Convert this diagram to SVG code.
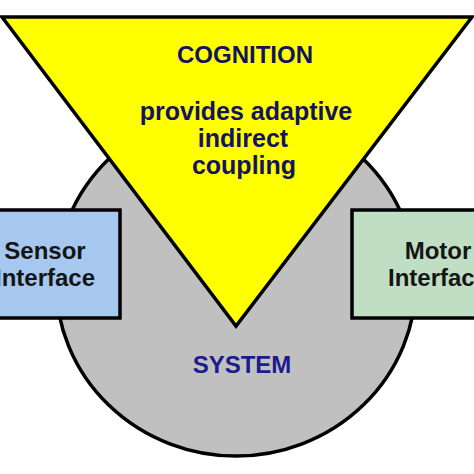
<svg xmlns="http://www.w3.org/2000/svg" width="474" height="474" viewBox="0 0 474 474">
<style>
  .shape { stroke: #000; stroke-width: 3.5; stroke-linejoin: miter; }
  .lbl { font-family: "Liberation Sans", Arial, sans-serif; font-weight: bold; font-size: 24px; text-anchor: middle; }
  .big { font-size: 25px; }
  .cog { fill: #14145e; }
  .sys { fill: #1c1c8e; }
  .io { fill: #151515; }
</style>
<rect width="474" height="474" fill="#fff"/>
<g id="system">
  <ellipse class="shape" cx="236" cy="282" rx="180" ry="174" fill="#c0c0c0"/>
  <text class="lbl sys" x="242" y="373">SYSTEM</text>
</g>
<g id="sensor-interface">
  <rect class="shape" x="-30" y="210" width="150" height="108" fill="#a6c8ee"/>
  <text class="lbl io" x="45" y="259">Sensor</text>
  <text class="lbl io" x="45" y="286">Interface</text>
</g>
<g id="motor-interface">
  <rect class="shape" x="352" y="210" width="172" height="108" fill="#c0dec4"/>
  <text class="lbl io" x="438" y="259">Motor</text>
  <text class="lbl io" x="438" y="286">Interface</text>
</g>
<g id="cognition">
  <polygon class="shape" points="2,17 472,17 236,326" fill="#ffff00"/>
  <text class="lbl cog" x="245" y="63">COGNITION</text>
  <text class="lbl big cog" x="246" y="120">provides adaptive</text>
  <text class="lbl big cog" x="243" y="147">indirect</text>
  <text class="lbl big cog" x="244" y="174">coupling</text>
</g>
<g id="connectors"></g>
</svg>
